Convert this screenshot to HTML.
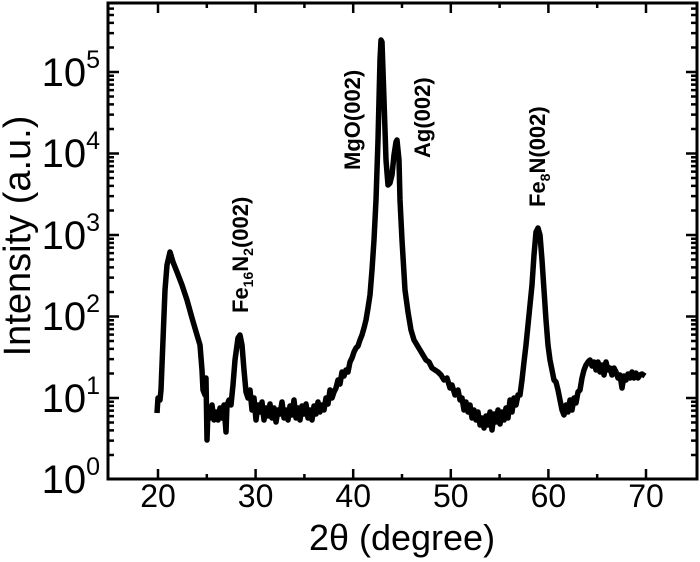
<!DOCTYPE html>
<html><head><style>
body{margin:0;background:#fff;}
svg{display:block;}
text{font-family:"Liberation Sans",Arial,sans-serif;fill:#000;}
</style></head><body>
<svg width="700" height="562" viewBox="0 0 700 562">
<rect x="108" y="3" width="589" height="476" fill="none" stroke="#000" stroke-width="3"/>
<g stroke="#000" stroke-width="2.5">
<line x1="158" y1="479" x2="158" y2="469"/><line x1="255.6" y1="479" x2="255.6" y2="469"/><line x1="353.2" y1="479" x2="353.2" y2="469"/><line x1="450.8" y1="479" x2="450.8" y2="469"/><line x1="548.4" y1="479" x2="548.4" y2="469"/><line x1="646" y1="479" x2="646" y2="469"/>
<line x1="158" y1="3" x2="158" y2="13"/><line x1="255.6" y1="3" x2="255.6" y2="13"/><line x1="353.2" y1="3" x2="353.2" y2="13"/><line x1="450.8" y1="3" x2="450.8" y2="13"/><line x1="548.4" y1="3" x2="548.4" y2="13"/><line x1="646" y1="3" x2="646" y2="13"/>
<line x1="206.8" y1="479" x2="206.8" y2="474"/><line x1="304.4" y1="479" x2="304.4" y2="474"/><line x1="402" y1="479" x2="402" y2="474"/><line x1="499.6" y1="479" x2="499.6" y2="474"/><line x1="597.2" y1="479" x2="597.2" y2="474"/>
<line x1="206.8" y1="3" x2="206.8" y2="8"/><line x1="304.4" y1="3" x2="304.4" y2="8"/><line x1="402" y1="3" x2="402" y2="8"/><line x1="499.6" y1="3" x2="499.6" y2="8"/><line x1="597.2" y1="3" x2="597.2" y2="8"/>
<path fill="none" d="
M108 398h11M108 316.5h11M108 235h11M108 153.5h11M108 72h11
M697 398h-11M697 316.5h-11M697 235h-11M697 153.5h-11M697 72h-11
M108 455h6M108 440.6h6M108 430.4h6M108 422.5h6M108 416.1h6M108 410.6h6M108 405.9h6M108 401.7h6
M108 373.5h6M108 359.1h6M108 348.9h6M108 341h6M108 334.6h6M108 329.1h6M108 324.4h6M108 320.2h6
M108 292h6M108 277.6h6M108 267.4h6M108 259.5h6M108 253.1h6M108 247.6h6M108 242.9h6M108 238.7h6
M108 210.5h6M108 196.1h6M108 185.9h6M108 178h6M108 171.6h6M108 166.1h6M108 161.4h6M108 157.2h6
M108 129h6M108 114.6h6M108 104.4h6M108 96.5h6M108 90.1h6M108 84.6h6M108 79.9h6M108 75.7h6
M108 47.5h6M108 33.1h6M108 22.9h6M108 15h6M108 8.6h6
M697 455h-6M697 440.6h-6M697 430.4h-6M697 422.5h-6M697 416.1h-6M697 410.6h-6M697 405.9h-6M697 401.7h-6
M697 373.5h-6M697 359.1h-6M697 348.9h-6M697 341h-6M697 334.6h-6M697 329.1h-6M697 324.4h-6M697 320.2h-6
M697 292h-6M697 277.6h-6M697 267.4h-6M697 259.5h-6M697 253.1h-6M697 247.6h-6M697 242.9h-6M697 238.7h-6
M697 210.5h-6M697 196.1h-6M697 185.9h-6M697 178h-6M697 171.6h-6M697 166.1h-6M697 161.4h-6M697 157.2h-6
M697 129h-6M697 114.6h-6M697 104.4h-6M697 96.5h-6M697 90.1h-6M697 84.6h-6M697 79.9h-6M697 75.7h-6
M697 47.5h-6M697 33.1h-6M697 22.9h-6M697 15h-6M697 8.6h-6"/>
</g>
<g font-size="40" text-anchor="end">
<text x="100" y="493">10<tspan font-size="25" dy="-18">0</tspan></text>
<text x="100" y="412">10<tspan font-size="25" dy="-18">1</tspan></text>
<text x="100" y="330">10<tspan font-size="25" dy="-18">2</tspan></text>
<text x="100" y="249">10<tspan font-size="25" dy="-18">3</tspan></text>
<text x="100" y="167">10<tspan font-size="25" dy="-18">4</tspan></text>
<text x="100" y="86">10<tspan font-size="25" dy="-18">5</tspan></text>
</g>
<g font-size="32" text-anchor="middle">
<text x="158" y="507">20</text><text x="255.6" y="507">30</text><text x="353.2" y="507">40</text><text x="450.8" y="507">50</text><text x="548.4" y="507">60</text><text x="646" y="507">70</text>
</g>
<text x="402" y="550" font-size="36" text-anchor="middle">2θ (degree)</text>
<text transform="translate(30,236) rotate(-90)" font-size="38" text-anchor="middle">Intensity (a.u.)</text>
<g font-size="22" font-weight="bold">
<text transform="translate(248,313) rotate(-90)">Fe<tspan font-size="14" dy="5">16</tspan><tspan dy="-5">N</tspan><tspan font-size="14" dy="5">2</tspan><tspan dy="-5">(002)</tspan></text>
<text transform="translate(360,170) rotate(-90)">MgO(002)</text>
<text transform="translate(430,158) rotate(-90)">Ag(002)</text>
<text transform="translate(545,207) rotate(-90)">Fe<tspan font-size="14" dy="5">8</tspan><tspan dy="-5">N(002)</tspan></text>
</g>
<polyline fill="none" stroke="#000" stroke-width="5.5" stroke-linejoin="round" points="
157,413 158,398 160,400 161,390 163,340 165,290 167,265 170,252 173,262 177,272 182,285 187,300 192,318 197,335 200,345 202,370 203,390 205,395 206,378 207,440 208,410 210,418 212,405 214,420 216,412 218,420 220,408 222,418 224,405 226,432 227,405 229,400 231,405 233,385 235,360 238,338 240,335 242,345 244,370 246,392 248,398 250,390 252,410 254,398 256,420 258,405 260,412 262,402 264,420 266,408 268,416 270,404 272,418 274,408 276,422 278,410 280,414 282,402 284,418 286,410 288,420 290,406 292,415 294,400 296,418 298,408 300,420 302,406 304,414 306,404 308,418 310,410 312,420 314,406 316,414 318,402 320,412 322,405 324,410 326,398 328,404 330,390 332,398 334,392 336,388 338,380 340,384 342,372 344,376 346,370 348,372 350,362 352,358 354,352 356,348 358,346 360,340 362,335 364,328 366,320 368,308 370,295 372,270 374,240 376,200 378,140 380,60 381,40 382,42 384,100 386,160 388,185 390,183 392,175 394,155 396,142 397,140 399,160 400,200 402,240 405,290 408,312 411,330 414,340 417,345 420,350 423,355 426,360 429,362 432,368 435,370 438,372 441,375 444,380 447,378 450,388 452,385 455,395 458,390 460,400 462,398 464,410 466,402 468,412 470,405 472,418 474,410 476,420 478,412 480,425 482,418 484,428 486,416 488,425 490,412 492,430 494,414 496,422 498,410 500,424 502,412 504,420 506,408 508,418 510,400 512,412 514,398 516,405 518,395 520,395 522,380 524,362 526,345 528,325 530,305 532,285 534,255 536,232 538,228 540,235 542,260 544,290 546,320 548,345 550,360 552,370 554,380 556,382 558,390 560,400 562,410 564,415 566,405 568,412 570,400 572,410 574,398 576,403 578,392 580,390 582,378 584,370 586,365 588,362 590,360 592,366 594,362 596,370 598,362 600,372 602,365 604,375 606,362 608,370 610,368 612,375 614,368 616,372 618,378 620,375 622,388 624,376 626,380 628,374 630,378 632,372 634,378 636,373 638,378 640,375 642,374 645,376"/>
</svg>
</body></html>
